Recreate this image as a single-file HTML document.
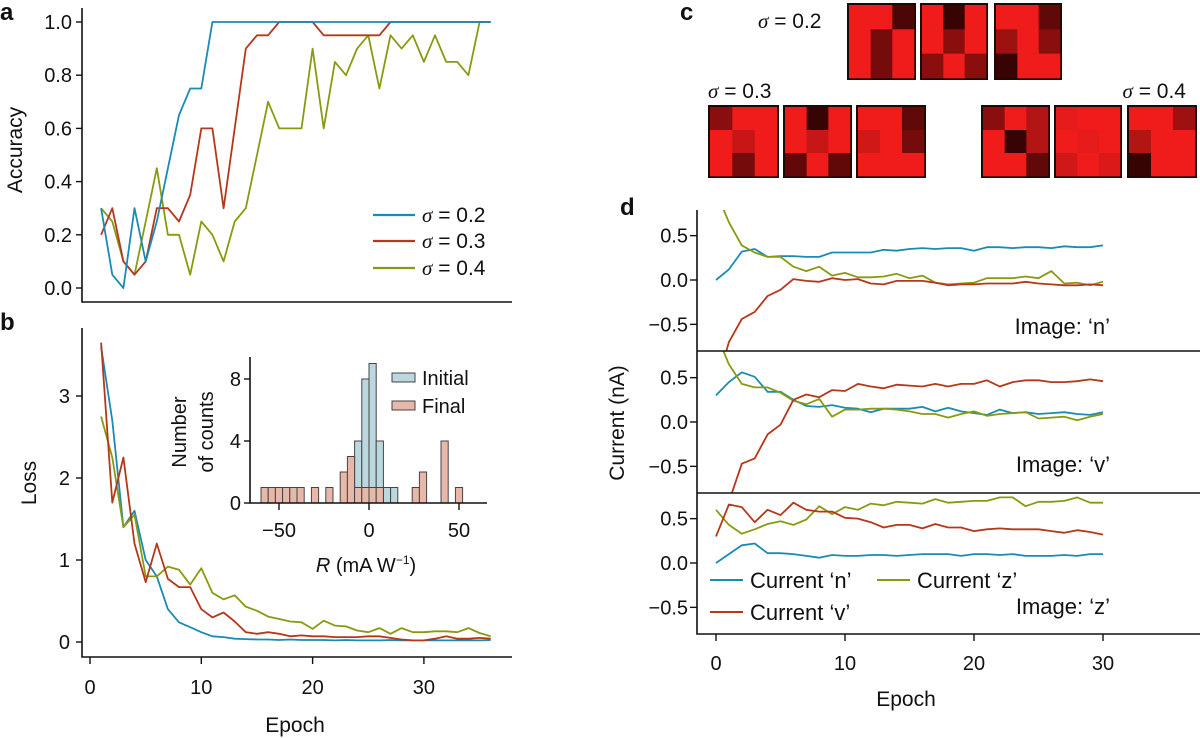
<!DOCTYPE html>
<html><head><meta charset="utf-8"><style>
html,body{margin:0;padding:0;background:#fff;}
svg{display:block;font-family:"Liberation Sans",sans-serif;}
text{fill:#111;}
</style></head><body>
<svg id="fig" width="1200" height="738" viewBox="0 0 1200 738">
<g font-weight="bold" font-size="24">
<text x="0" y="20">a</text>
<text x="0" y="330">b</text>
<text x="680" y="20">c</text>
<text x="620" y="215">d</text>
</g>
</svg>
<script>
const NS='http://www.w3.org/2000/svg';
const svg=document.getElementById('fig');
function mk(tag,attrs,parent){const e=document.createElementNS(NS,tag);for(const k in attrs)e.setAttribute(k,attrs[k]);(parent||svg).appendChild(e);return e;}
const C={n:'#1a8bb3',v:'#b5381a',z:'#8a9a10'};

// ---------- data ----------
const accS02=[0.3,0.05,0,0.3,0.1,0.25,0.45,0.65,0.75,0.75,1,1,1,1,1,1,1,1,1,1,1,1,1,1,1,1,1,1,1,1,1,1,1,1,1,1];
const accS03=[0.2,0.3,0.1,0.05,0.1,0.3,0.3,0.25,0.35,0.6,0.6,0.3,0.6,0.9,0.95,0.95,1,1,1,1,0.95,0.95,0.95,0.95,0.95,0.95,1,1,1,1,1,1,1,1,1,1];
const accS04=[0.3,0.25,0.1,0.05,0.25,0.45,0.2,0.2,0.05,0.25,0.2,0.1,0.25,0.3,0.5,0.7,0.6,0.6,0.6,0.9,0.6,0.85,0.8,0.9,0.95,0.75,0.95,0.9,0.95,0.85,0.95,0.85,0.85,0.8,1,1];
const lossS02=[3.6,2.7,1.4,1.6,1.0,0.8,0.4,0.24,0.18,0.12,0.07,0.06,0.04,0.035,0.03,0.03,0.025,0.03,0.025,0.025,0.025,0.02,0.025,0.02,0.02,0.02,0.025,0.02,0.02,0.02,0.02,0.02,0.02,0.02,0.02,0.025];
const lossS03=[3.65,1.7,2.25,1.2,0.73,1.2,0.77,0.67,0.67,0.4,0.3,0.36,0.25,0.12,0.1,0.12,0.1,0.07,0.08,0.07,0.07,0.06,0.06,0.06,0.07,0.07,0.05,0.03,0.02,0.02,0.04,0.07,0.04,0.04,0.05,0.04];
const lossS04=[2.75,2.25,1.4,1.55,0.8,0.8,0.92,0.88,0.7,0.9,0.6,0.52,0.57,0.43,0.38,0.31,0.28,0.25,0.24,0.16,0.26,0.2,0.19,0.14,0.12,0.17,0.1,0.17,0.12,0.12,0.13,0.13,0.12,0.17,0.11,0.07];
const histBinStart=[-60,-56,-52,-48,-44,-40,-36,-32,-28,-24,-20,-16,-12,-8,-4,0,4,8,12,16,20,24,28,32,36,40,44,48];
const histInitial=[0,0,0,0,0,0,0,0,0,0,0,0,0,4,8,9,4,1,1,0,0,0,0,0,0,0,0,0];
const histFinal=[1,1,1,1,1,1,0,1,0,1,0,2,3,1,1,1,1,0,0,0,0,1,2,0,0,4,0,1];
const histXTicks=[-50,0,50];
const histYTicks=[0,4,8];
const lossTicks=[0,1,2,3];
const accTicks=[0,0.2,0.4,0.6,0.8,1.0];
const epochTicksB=[0,10,20,30];
const dTicks=[0.5,0,-0.5];
const epochTicksD=[0,10,20,30];
const nImg_n=[0,0.12,0.32,0.35,0.26,0.27,0.27,0.26,0.26,0.31,0.31,0.31,0.31,0.34,0.33,0.35,0.36,0.35,0.36,0.36,0.33,0.37,0.37,0.36,0.37,0.37,0.36,0.38,0.37,0.37,0.39];
const nImg_v=[-1.2,-0.7,-0.44,-0.36,-0.18,-0.11,0.01,-0.01,-0.02,0.02,0,0.01,-0.04,-0.05,-0.01,-0.01,-0.01,-0.03,-0.06,-0.05,-0.05,-0.04,-0.04,-0.04,-0.02,-0.04,-0.05,-0.06,-0.06,-0.05,-0.06];
const nImg_z=[1.0,0.65,0.39,0.31,0.26,0.26,0.15,0.1,0.15,0.05,0.08,0.03,0.03,0.04,0.07,0.02,0.05,-0.03,-0.05,-0.04,-0.03,0.02,0.02,0.02,0.04,0.02,0.1,-0.04,-0.03,-0.06,-0.02];
const vImg_n=[0.3,0.45,0.56,0.51,0.34,0.34,0.25,0.18,0.17,0.19,0.16,0.15,0.11,0.15,0.15,0.15,0.17,0.12,0.16,0.12,0.1,0.08,0.14,0.1,0.11,0.09,0.1,0.11,0.09,0.08,0.11];
const vImg_v=[-1.3,-0.9,-0.47,-0.41,-0.14,-0.03,0.25,0.31,0.28,0.36,0.35,0.43,0.4,0.38,0.42,0.41,0.4,0.43,0.4,0.43,0.43,0.47,0.4,0.45,0.47,0.47,0.45,0.45,0.46,0.48,0.46];
const vImg_z=[1.0,0.65,0.43,0.39,0.39,0.33,0.24,0.2,0.26,0.06,0.14,0.14,0.15,0.15,0.14,0.12,0.09,0.09,0.05,0.09,0.12,0.07,0.09,0.1,0.11,0.04,0.05,0.06,0.02,0.06,0.09];
const zImg_n=[0,0.1,0.2,0.22,0.11,0.11,0.1,0.08,0.06,0.09,0.08,0.08,0.09,0.09,0.08,0.09,0.1,0.1,0.1,0.08,0.1,0.1,0.09,0.1,0.08,0.08,0.08,0.09,0.08,0.1,0.1];
const zImg_v=[0.3,0.66,0.63,0.46,0.6,0.54,0.68,0.6,0.58,0.58,0.51,0.5,0.46,0.4,0.43,0.43,0.39,0.44,0.4,0.4,0.36,0.38,0.39,0.38,0.38,0.38,0.36,0.34,0.37,0.35,0.32];
const zImg_z=[0.6,0.43,0.33,0.38,0.44,0.47,0.43,0.49,0.64,0.55,0.63,0.6,0.67,0.65,0.69,0.68,0.67,0.72,0.68,0.69,0.7,0.7,0.74,0.74,0.64,0.69,0.69,0.7,0.74,0.68,0.68];

// ---------- panel a ----------
const xE=e=>90+11.13*e;
const yA=v=>288-266*v;
const gA=mk('g',{});


let ax=mk('path',{d:'M82,8 V302 H512',fill:'none',stroke:'#111','stroke-width':1.6},gA);


accTicks.forEach(t=>{
  const tk=mk('line',{x1:82,x2:76,y1:yA(t),y2:yA(t),stroke:'#111','stroke-width':1.4},gA);
  
  
  const tl=mk('text',{x:72,y:yA(t)+7,'text-anchor':'end','font-size':20},gA);
  tl.textContent=t.toFixed(1);
  
  
});
let yl=mk('text',{transform:'translate(22,150) rotate(-90)','text-anchor':'middle','font-size':21},gA);
yl.textContent='Accuracy';


function line(g,arr,xf,yf,col,name,x0){
  const p=mk('path',{d:arr.map((v,i)=>(i?'L':'M')+xf(i+x0).toFixed(1)+','+yf(v).toFixed(1)).join(''),fill:'none',stroke:col,'stroke-width':1.8,'stroke-linejoin':'round'},g);
  
  
  return p;
}
line(gA,accS04,xE,yA,C.z,'accuracy-line-sigma-0.4',1);
line(gA,accS03,xE,yA,C.v,'accuracy-line-sigma-0.3',1);
line(gA,accS02,xE,yA,C.n,'accuracy-line-sigma-0.2',1);
[['0.2',C.n,215],['0.3',C.v,241],['0.4',C.z,268]].forEach(([s,c,y])=>{
  const l=mk('line',{x1:373,x2:415,y1:y,y2:y,stroke:c,'stroke-width':2.2},gA);
  
  
  const t=mk('text',{x:422,y:y+7,'font-size':21},gA);
  t.innerHTML='<tspan font-family="Liberation Serif" font-style="italic">σ</tspan> = '+s;
  
  
});

// ---------- panel b ----------
const yB=v=>642-82*v;
const gB=mk('g',{});


ax=mk('path',{d:'M82,328 V657 H512',fill:'none',stroke:'#111','stroke-width':1.6},gB);


lossTicks.forEach(t=>{
  const tk=mk('line',{x1:76,x2:82,y1:yB(t),y2:yB(t),stroke:'#111','stroke-width':1.4},gB);
  
  
  const tl=mk('text',{x:70,y:yB(t)+7,'text-anchor':'end','font-size':20},gB);
  tl.textContent=t;
  
  
});
epochTicksB.forEach(t=>{
  const tk=mk('line',{x1:xE(t),x2:xE(t),y1:657,y2:664,stroke:'#111','stroke-width':1.4},gB);
  
  
  const tl=mk('text',{x:xE(t),y:694,'text-anchor':'middle','font-size':20},gB);
  tl.textContent=t;
  
  
});
let xl=mk('text',{x:295,y:732,'text-anchor':'middle','font-size':21},gB);
xl.textContent='Epoch';


yl=mk('text',{transform:'translate(36,483) rotate(-90)','text-anchor':'middle','font-size':21},gB);
yl.textContent='Loss';


line(gB,lossS02,xE,yB,C.n,'loss-line-sigma-0.2',1);
line(gB,lossS04,xE,yB,C.z,'loss-line-sigma-0.4',1);
line(gB,lossS03,xE,yB,C.v,'loss-line-sigma-0.3',1);

// inset histogram
const xH=v=>369+1.8*v;
const yH=c=>503-15.5*c;
const gH=mk('g',{});


histBinStart.forEach((b,i)=>{
  if(histInitial[i]>0){
    const r=mk('rect',{x:xH(b),y:yH(histInitial[i]),width:xH(b+4)-xH(b),height:503-yH(histInitial[i]),fill:'#bcd8df',stroke:'#444','stroke-width':1},gH);
    
    
  }
});
histBinStart.forEach((b,i)=>{
  if(histFinal[i]>0){
    const r=mk('rect',{x:xH(b),y:yH(histFinal[i]),width:xH(b+4)-xH(b),height:503-yH(histFinal[i]),fill:'#e6b8aa',stroke:'#444','stroke-width':1},gH);
    
    
  }
});
ax=mk('path',{d:'M250,357 V503 H487',fill:'none',stroke:'#111','stroke-width':1.6},gH);


histYTicks.forEach(t=>{
  const tk=mk('line',{x1:244,x2:250,y1:yH(t),y2:yH(t),stroke:'#111','stroke-width':1.4},gH);
  
  
  const tl=mk('text',{x:241,y:yH(t)+7,'text-anchor':'end','font-size':20},gH);
  tl.textContent=t;
  
  
});
histXTicks.forEach(t=>{
  const tk=mk('line',{x1:xH(t),x2:xH(t),y1:503,y2:510,stroke:'#111','stroke-width':1.4},gH);
  
  
  const tl=mk('text',{x:xH(t),y:537,'text-anchor':'middle','font-size':20},gH);
  tl.textContent=t<0?'\u2212'+(-t):t;
  
  
});
yl=mk('text',{transform:'translate(186,432) rotate(-90)','text-anchor':'middle','font-size':20},gH);
yl.textContent='Number';


yl=mk('text',{transform:'translate(213,432) rotate(-90)','text-anchor':'middle','font-size':20},gH);
yl.textContent='of counts';


xl=mk('text',{x:366,y:572,'text-anchor':'middle','font-size':20},gH);
xl.innerHTML='<tspan font-style="italic">R</tspan> (mA W<tspan font-size="12" dy="-8">\u22121</tspan><tspan dy="8">)</tspan>';


[['Initial','#bcd8df',378],['Final','#e6b8aa',406]].forEach(([s,c,y])=>{
  const r=mk('rect',{x:392,y:y-5,width:23,height:9,fill:c,stroke:'#444','stroke-width':1},gH);
  
  
  const t=mk('text',{x:422,y:y+7,'font-size':20},gH);
  t.textContent=s;
  
  
});

// ---------- panel c ----------
const gC=mk('g',{});


const imgs=[
 [847,3,69,77,[0,0,.8,0,.6,0,0,.6,0]],[920,3,68,77,[0,.9,0,0,.5,0,.5,0,.5]],[994,3,68,77,[0,0,.7,.4,0,.5,.9,0,0]],
 [708,105,71,73,[.5,0,0,0,.2,0,0,.6,0]],[783,105,69,73,[0,.9,0,0,.2,0,.7,0,.7]],[856,105,70,73,[0,0,.7,.15,0,.6,0,0,0]],
 [981,105,69,73,[.5,0,.3,0,.9,.3,0,0,.7]],[1054,105,68,73,[.05,0,0,0,.05,0,.15,0,.1]],[1127,105,70,73,[0,0,.4,.3,0,0,.9,0,0]]];
imgs.forEach(([x,y,w,h,cells],k)=>{
  const g=mk('g',{},gC);
  
  
  mk('rect',{x:x,y:y,width:w,height:h,fill:'#1a0a08'},g);
  const cw=(w-4)/3,ch=(h-4)/3;
  cells.forEach((d,i)=>{
    const r=Math.round(240*(1-0.85*d)),gg=Math.round(28*(1-d));
    mk('rect',{x:x+2+(i%3)*cw,y:y+2+Math.floor(i/3)*ch,width:cw+0.3,height:ch+0.3,fill:`rgb(${r},${gg},${gg})`},g);
  });
});
[['0.2',758,28,'start'],['0.3',708,98,'start'],['0.4',1186,98,'end']].forEach(([s,x,y,a])=>{
  const t=mk('text',{x:x,y:y,'font-size':21,'text-anchor':a},gC);
  t.innerHTML='<tspan font-family="Liberation Serif" font-style="italic">σ</tspan> = '+s;
  
  
});

// ---------- panel d ----------
const xD=e=>716+12.9*e;
const gD=mk('g',{});


const defs=mk('defs',{});
const subs=[{zero:280,top:210,bot:351,lab:"Image: \u2018n\u2019",data:[nImg_n,nImg_v,nImg_z],id:'n'},
            {zero:422,top:351,bot:493,lab:"Image: \u2018v\u2019",data:[vImg_n,vImg_v,vImg_z],id:'v'},
            {zero:563,top:493,bot:634,lab:"Image: \u2018z\u2019",data:[zImg_n,zImg_v,zImg_z],id:'z'}];
subs.forEach(s=>{
  const cp=mk('clipPath',{id:'clip-'+s.id},defs);
  mk('rect',{x:697,y:s.top,width:503,height:s.bot-s.top},cp);
  const g=mk('g',{'clip-path':'url(#clip-'+s.id+')'},gD);
  
  
  const yf=v=>s.zero-88.7*v;
  [0,2,1].forEach(j=>line(g,s.data[j],xD,yf,[C.n,C.v,C.z][j],'current-line-'+['n','v','z'][j]+'-image-'+s.id,0));
  dTicks.forEach(t=>{
    const tk=mk('line',{x1:690,x2:697,y1:yf(t),y2:yf(t),stroke:'#111','stroke-width':1.4},gD);
    
    
    const tl=mk('text',{x:688,y:yf(t)+7,'text-anchor':'end','font-size':20},gD);
    tl.textContent=t<0?'\u22120.5':t.toFixed(1);
    
    
  });
  const lt=mk('text',{x:1110,y:s.id==='n'?334:(s.id==='v'?472:614),'text-anchor':'end','font-size':22},gD);
  lt.textContent=s.lab;
  
  
});
ax=mk('path',{d:'M697,210 V634 H1200 M697,351 H1200 M697,493 H1200',fill:'none',stroke:'#111','stroke-width':1.6},gD);


epochTicksD.forEach(t=>{
  const tk=mk('line',{x1:xD(t),x2:xD(t),y1:634,y2:641,stroke:'#111','stroke-width':1.4},gD);
  
  
  const tl=mk('text',{x:xD(t),y:670,'text-anchor':'middle','font-size':20},gD);
  tl.textContent=t;
  
  
});
xl=mk('text',{x:906,y:706,'text-anchor':'middle','font-size':21},gD);
xl.textContent='Epoch';


yl=mk('text',{transform:'translate(624,423) rotate(-90)','text-anchor':'middle','font-size':21},gD);
yl.textContent='Current (nA)';


[["Current \u2018n\u2019",C.n,710,580],["Current \u2018v\u2019",C.v,710,612],["Current \u2018z\u2019",C.z,877,580]].forEach(([s,c,x,y])=>{
  const l=mk('line',{x1:x,x2:x+33,y1:y,y2:y,stroke:c,'stroke-width':2},gD);
  
  
  const t=mk('text',{x:x+40,y:y+8,'font-size':22},gD);
  t.textContent=s;
  
  
});
</script>
</body></html>
